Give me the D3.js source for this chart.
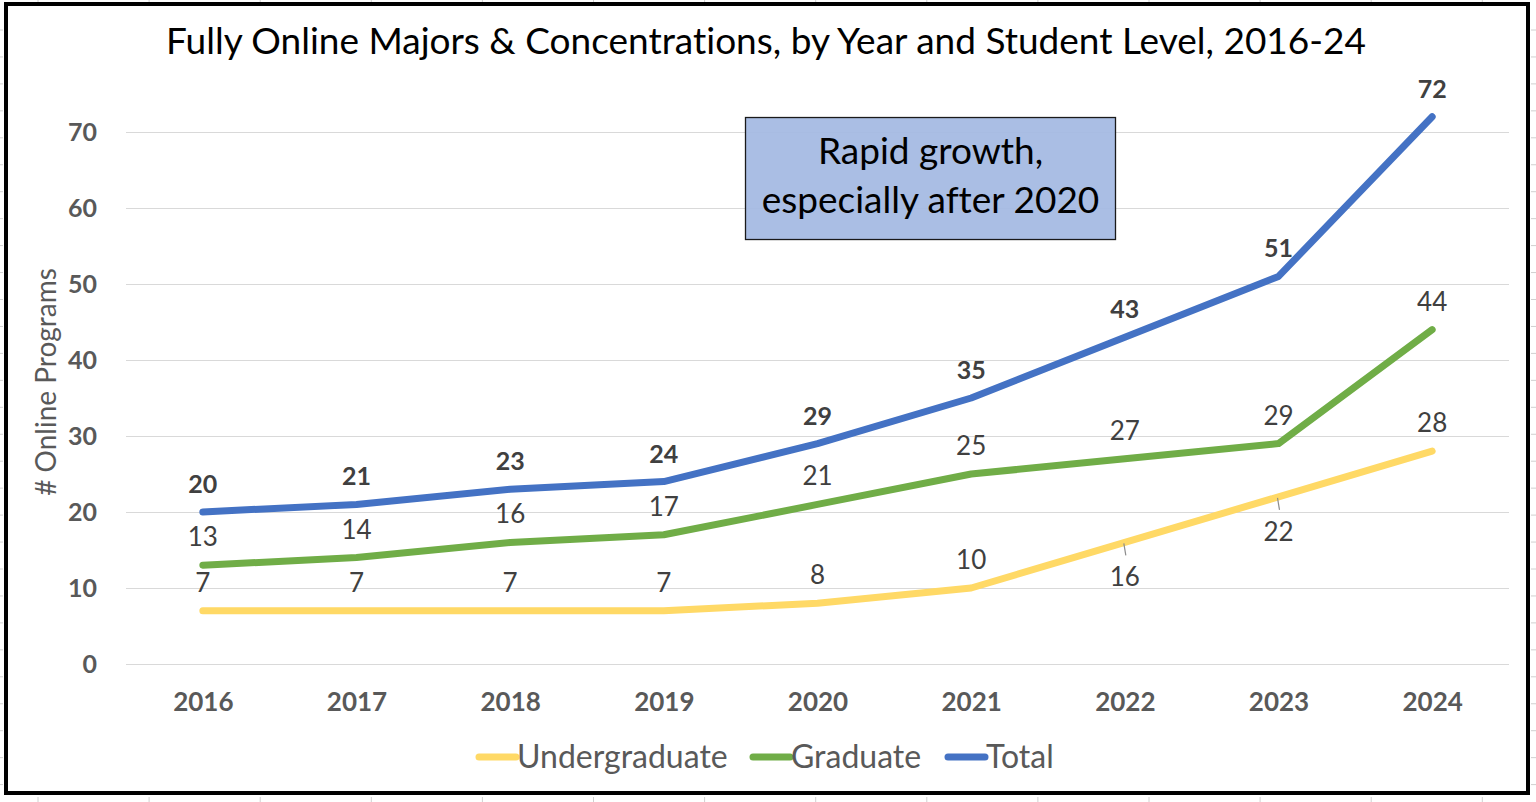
<!DOCTYPE html>
<html>
<head>
<meta charset="utf-8">
<script src="https://cdn.jsdelivr.net/npm/d3@7"></script>
<style>
  body { margin: 0; background: #fff; }
  svg { display: block; font-variant-ligatures: none; }
</style>
</head>
<body>
<div id="chart"></div>
<script>
// chart data
var years = ["2016", "2017", "2018", "2019", "2020", "2021", "2022", "2023", "2024"];
var undergrad = [7, 7, 7, 7, 8, 10, 16, 22, 28];
var graduate = [13, 14, 16, 17, 21, 25, 27, 29, 44];
var total = [20, 21, 23, 24, 29, 35, 43, 51, 72];
var yTicks = [0, 10, 20, 30, 40, 50, 60, 70];
var seriesNames = ["Undergraduate", "Graduate", "Total"];

var cfg = {
  w: 1536,
  h: 802,
  margin: {top: 56, right: 27, bottom: 138, left: 126},
  color: ["#ffd966", "#70ad47", "#4472c4"],
  font: "Lato, 'Open Sans', sans-serif"
};

var graphW = cfg.w - cfg.margin.left - cfg.margin.right;
var graphH = cfg.h - cfg.margin.top - cfg.margin.bottom;

var svg = d3.select("#chart")
  .append("svg")
  .attr("width", cfg.w)
  .attr("height", cfg.h)
  .style("font-family", cfg.font);

// faint spreadsheet grid marks outside the frame
var gridX = d3.range(38, cfg.w, 111.1);
var gridY = d3.range(30, cfg.h, 26.95);
svg.selectAll(".cellx").data(gridX).enter().append("g").each(function(x) {
  d3.select(this).append("line").attr("x1", x).attr("x2", x).attr("y1", 0).attr("y2", 3)
    .attr("stroke", "#d0d0d0");
  d3.select(this).append("line").attr("x1", x).attr("x2", x).attr("y1", 797).attr("y2", 802)
    .attr("stroke", "#d0d0d0");
});
svg.selectAll(".celly").data(gridY).enter().append("g").each(function(y) {
  d3.select(this).append("line").attr("x1", 0).attr("x2", 3).attr("y1", y).attr("y2", y)
    .attr("stroke", "#d0d0d0");
  d3.select(this).append("line").attr("x1", 1531).attr("x2", 1536).attr("y1", y).attr("y2", y)
    .attr("stroke", "#d0d0d0");
});

// chart frame
svg.append("rect")
  .attr("x", 6).attr("y", 4)
  .attr("width", 1522).attr("height", 789)
  .attr("fill", "#fff")
  .attr("stroke", "#000")
  .attr("stroke-width", 4);

// title
svg.append("text")
  .attr("x", 766).attr("y", 54)
  .attr("text-anchor", "middle")
  .attr("font-size", "37px")
  .attr("fill", "#000")
  .text("Fully Online Majors & Concentrations, by Year and Student Level, 2016-24");

var g = svg.append("g")
  .attr("transform", "translate(" + cfg.margin.left + "," + cfg.margin.top + ")");

var x = d3.scalePoint()
  .domain(years)
  .range([0, graphW])
  .padding(0.5);

var y = d3.scaleLinear()
  .domain([0, 80])
  .range([graphH, 0]);

// gridlines
g.selectAll(".grid")
  .data(yTicks)
  .enter().append("line")
  .attr("class", "grid")
  .attr("x1", 0).attr("x2", graphW)
  .attr("y1", function(d) { return y(d) + 0.5; })
  .attr("y2", function(d) { return y(d) + 0.5; })
  .attr("stroke", "#d9d9d9")
  .attr("stroke-width", 1.2);

// annotation box (gridlines show faintly through it)
g.append("rect")
  .attr("x", x("2020") - 72).attr("y", y(72.3) + 3)
  .attr("width", 370).attr("height", 122)
  .attr("fill", "#a4b9e2")
  .attr("fill-opacity", 0.93)
  .attr("stroke", "#1a1a1a")
  .attr("stroke-width", 1.3);

var note = g.append("text")
  .attr("text-anchor", "middle")
  .attr("font-size", "37px")
  .attr("fill", "#000");
note.append("tspan").attr("x", x("2020") + 113).attr("y", y(66.3) + 4).text("Rapid growth,");
note.append("tspan").attr("x", x("2020") + 113).attr("y", y(60.1) + 6).text("especially after 2020");

// y axis labels
var yAxis = g.append("g")
  .call(d3.axisLeft(y).tickValues(yTicks).tickSize(0).tickPadding(29));
yAxis.select(".domain").remove();
yAxis.selectAll("text")
  .attr("font-family", cfg.font)
  .attr("font-size", "25px")
  .attr("font-weight", "bold")
  .attr("fill", "#595959");

// x axis labels
var xAxis = g.append("g")
  .attr("transform", "translate(0," + graphH + ")")
  .call(d3.axisBottom(x).tickSize(0).tickPadding(29));
xAxis.select(".domain").remove();
xAxis.selectAll("text")
  .attr("font-family", cfg.font)
  .attr("font-size", "26px")
  .attr("font-weight", "bold")
  .attr("fill", "#595959");

// y axis title
svg.append("text")
  .attr("transform", "translate(56,382) rotate(-90)")
  .attr("text-anchor", "middle")
  .attr("font-size", "28px")
  .attr("fill", "#595959")
  .text("# Online Programs");

// lines
var series = [undergrad, graduate, total];
var line = d3.line()
  .x(function(d, i) { return x(years[i]); })
  .y(function(d) { return y(d); });

g.selectAll(".series")
  .data(series)
  .enter().append("path")
  .attr("class", "series")
  .attr("fill", "none")
  .attr("stroke", function(d, i) { return cfg.color[i]; })
  .attr("stroke-width", 7)
  .attr("stroke-linecap", "round")
  .attr("stroke-linejoin", "round")
  .attr("d", line);

// data labels
// total: bold above
g.selectAll(".lab-total")
  .data(total)
  .enter().append("text")
  .attr("x", function(d, i) { return x(years[i]); })
  .attr("y", function(d) { return y(d) - 19; })
  .attr("text-anchor", "middle")
  .attr("font-size", "25px")
  .attr("font-weight", "bold")
  .attr("fill", "#404040")
  .text(function(d) { return d; });

// graduate: regular above
g.selectAll(".lab-grad")
  .data(graduate)
  .enter().append("text")
  .attr("x", function(d, i) { return x(years[i]); })
  .attr("y", function(d) { return y(d) - 19; })
  .attr("text-anchor", "middle")
  .attr("font-size", "26px")
  .attr("fill", "#404040")
  .text(function(d) { return d; });

// undergraduate: above, except 2022 and 2023 which sit below with a leader
var below = {"2022": true, "2023": true};
g.selectAll(".lab-ug")
  .data(undergrad)
  .enter().append("text")
  .attr("x", function(d, i) { return x(years[i]); })
  .attr("y", function(d, i) { return below[years[i]] ? y(d) + 44 : y(d) - 19; })
  .attr("text-anchor", "middle")
  .attr("font-size", "26px")
  .attr("fill", "#404040")
  .text(function(d) { return d; });

g.selectAll(".leader")
  .data(undergrad.filter(function(d, i) { return below[years[i]]; }))
  .enter().append("line")
  .attr("x1", function(d) { return x(years[undergrad.indexOf(d)]) - 1; })
  .attr("x2", function(d) { return x(years[undergrad.indexOf(d)]) + 1; })
  .attr("y1", function(d) { return y(d) + 1; })
  .attr("y2", function(d) { return y(d) + 13; })
  .attr("stroke", "#8c8c8c")
  .attr("stroke-width", 1.2);

// legend
var legendX = [479, 753, 948];
var legend = svg.selectAll(".legend")
  .data(seriesNames)
  .enter().append("g")
  .attr("transform", function(d, i) { return "translate(" + legendX[i] + ",757)"; });
legend.append("line")
  .attr("x1", 0).attr("x2", 37)
  .attr("stroke", function(d, i) { return cfg.color[i]; })
  .attr("stroke-width", 7)
  .attr("stroke-linecap", "round");
legend.append("text")
  .attr("x", 38).attr("y", 11)
  .attr("font-size", "32px")
  .attr("fill", "#595959")
  .text(function(d) { return d; });
</script>
</body>
</html>
